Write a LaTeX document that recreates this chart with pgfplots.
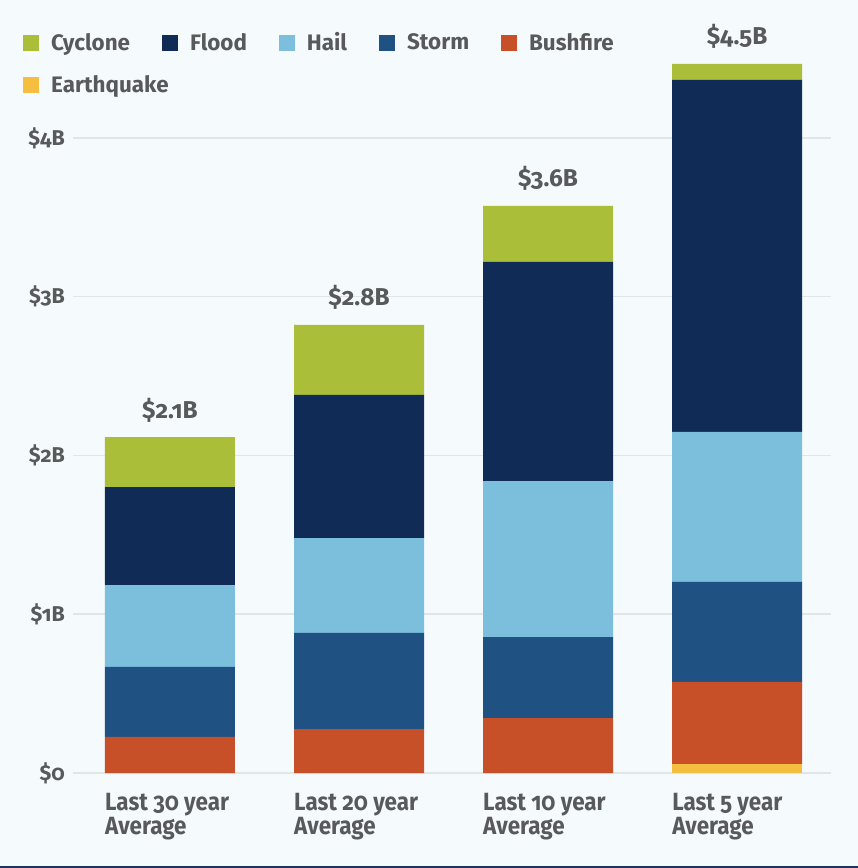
\documentclass[border=0pt]{standalone}
\usepackage{fontspec}
\setmainfont{Fira Sans}[Numbers=OldStyle]
\newfontfamily\xlabfamily{Fira Sans}[Numbers=OldStyle, FakeStretch=0.9]
\usepackage{pgfplots}
\pgfplotsset{compat=1.18}
\definecolor{bgc}{HTML}{F5FAFD}
\definecolor{gridc}{HTML}{E2E5E8}
\definecolor{txt}{HTML}{58595B}
\definecolor{cyclone}{HTML}{ABBE3A}
\definecolor{flood}{HTML}{0F2B56}
\definecolor{hail}{HTML}{7BBFDD}
\definecolor{storm}{HTML}{1F5283}
\definecolor{bushfire}{HTML}{C75028}
\definecolor{quake}{HTML}{F5BE41}
\definecolor{navy}{HTML}{1B365D}
\newcommand\lgfont{\bfseries\fontsize{22.5}{25}\selectfont}
\newcommand\ytfont{\bfseries\fontsize{21.5}{25}\selectfont}
\newcommand\topfont{\bfseries\fontsize{24.5}{26}\selectfont}
\newcommand\xfont{\xlabfamily\bfseries\fontsize{25}{24.5}\selectfont}
\begin{document}
\begin{tikzpicture}
\fill[bgc] (0,0) rectangle (858bp,868bp);
\fill[navy] (0,0) rectangle (858bp,2bp);
\begin{axis}[
  at={(73bp,95bp)}, anchor=south west,
  scale only axis, width=758bp, height=714.4bp,
  xmin=-0.513, xmax=3.497, ymin=0, ymax=4.5,
  clip=false,
  stack plots=y,
  ybar stacked, bar width=130bp,
  axis line style={draw=none},
  major tick length=0pt,
  ymajorgrids, grid style={gridc, line width=1.5bp},
  ytick={0,1,2,3,4},
  yticklabels={\$0,\$1B,\$2B,\$3B,\$4B},
  yticklabel style={font=\ytfont, text=txt, anchor=east, inner sep=0pt, xshift=-8bp},
  xtick={0,1,2,3},
  xticklabels={{Last 30 year\\Average},{Last 20 year\\Average},{Last 10 year\\Average},{Last 5 year\\Average}},
  xticklabel style={font=\xfont, text=txt, anchor=north west, align=left, inner sep=0pt, xshift=-65bp, yshift=-20bp},
  legend columns=5,
  legend style={at={(axis description cs:0,1)}, anchor=north west, xshift=-50bp, yshift=28bp,
    draw=none, fill=none, inner sep=0pt, font=\lgfont, text=txt,
    /tikz/every even column/.append style={column sep=30bp},
    /tikz/every odd column/.append style={column sep=10bp},
    row sep=19bp},
  legend cell align=left,
  legend image code/.code={\fill[#1] (0bp,-8bp) rectangle (16bp,8bp);},
  nodes near coords style={font=\topfont, text=txt, anchor=base, yshift=19bp},
]
\addplot[fill=quake, draw=none, forget plot] coordinates {(0,0) (1,0) (2,0) (3,0.057)};
\addplot[fill=bushfire, draw=none, forget plot] coordinates {(0,0.227) (1,0.277) (2,0.346) (3,0.517)};
\addplot[fill=storm, draw=none, forget plot] coordinates {(0,0.441) (1,0.605) (2,0.510) (3,0.630)};
\addplot[fill=hail, draw=none, forget plot] coordinates {(0,0.516) (1,0.598) (2,0.983) (3,0.945)};
\addplot[fill=flood, draw=none, forget plot] coordinates {(0,0.617) (1,0.901) (2,1.380) (3,2.217)};
\addplot[fill=cyclone, draw=none, forget plot] coordinates {(0,0.315) (1,0.441) (2,0.353) (3,0.101)};
\addplot[draw=none, fill=none, forget plot, nodes near coords, point meta=explicit symbolic]
  coordinates {(0,0.0001) [\$2.1B] (1,0.0001) [\$2.8B] (2,0.0001) [\$3.6B] (3,0.0001) [\$4.5B]};
\addlegendimage{fill=cyclone, draw=none}\addlegendentry{Cyclone}
\addlegendimage{fill=flood, draw=none}\addlegendentry{Flood}
\addlegendimage{fill=hail, draw=none}\addlegendentry{Hail}
\addlegendimage{fill=storm, draw=none}\addlegendentry{Storm}
\addlegendimage{fill=bushfire, draw=none}\addlegendentry{Bushfire}
\addlegendimage{fill=quake, draw=none}\addlegendentry{\makebox[0pt][l]{Earthquake}}
\end{axis}
\end{tikzpicture}
\end{document}
